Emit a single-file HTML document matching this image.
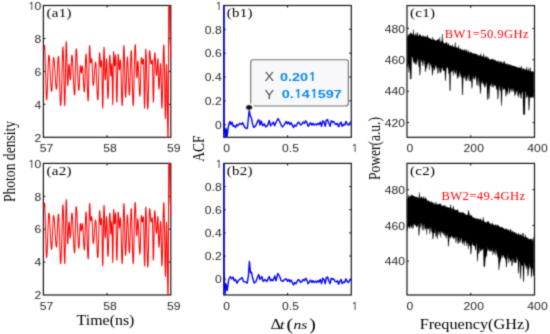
<!DOCTYPE html>
<html><head><meta charset="utf-8"><title>figure</title>
<style>html,body{margin:0;padding:0;background:#fff;}svg{display:block;}</style>
</head><body>
<svg width="550" height="334" viewBox="0 0 550 334">
<defs>
<clipPath id="cpa1"><rect x="42.6" y="5.2" width="129" height="132.4"/></clipPath>
<clipPath id="cpa2"><rect x="42.6" y="163.1" width="129" height="132.2"/></clipPath>
<clipPath id="cpb1"><rect x="222.9" y="5.2" width="129.2" height="132.4"/></clipPath>
<clipPath id="cpb2"><rect x="222.9" y="163.1" width="129.2" height="132.2"/></clipPath>
<clipPath id="cpc1"><rect x="406.2" y="5.3" width="129.1" height="132.3"/></clipPath>
<clipPath id="cpc2"><rect x="406.2" y="163.1" width="129.1" height="132.2"/></clipPath>
<filter id="bl" filterUnits="userSpaceOnUse" x="0" y="0" width="550" height="334" color-interpolation-filters="sRGB"><feConvolveMatrix order="3" kernelMatrix="0.0278 0.1111 0.0278 0.1111 0.4444 0.1111 0.0278 0.1111 0.0278" edgeMode="duplicate" preserveAlpha="true"/></filter>
</defs>
<rect width="550" height="334" fill="#fff"/>
<g filter="url(#bl)">
<rect width="550" height="334" fill="#fff"/>
<rect x="43.4" y="5.5" width="127.4" height="131.8" fill="none" stroke="#151515" stroke-width="1.2"/>
<rect x="43.4" y="163.4" width="127.4" height="131.6" fill="none" stroke="#151515" stroke-width="1.2"/>
<rect x="223.7" y="5.5" width="127.6" height="131.8" fill="none" stroke="#151515" stroke-width="1.2"/>
<rect x="223.7" y="163.4" width="127.6" height="131.6" fill="none" stroke="#151515" stroke-width="1.2"/>
<rect x="407" y="5.6" width="127.5" height="131.7" fill="none" stroke="#151515" stroke-width="1.2"/>
<rect x="407" y="163.4" width="127.5" height="131.6" fill="none" stroke="#151515" stroke-width="1.2"/>
<path d="M43.4 38.45h2.1M170.8 38.45h-2.1" stroke="#151515" stroke-width="1"/>
<path d="M43.4 71.4h2.1M170.8 71.4h-2.1" stroke="#151515" stroke-width="1"/>
<path d="M43.4 104.35h2.1M170.8 104.35h-2.1" stroke="#151515" stroke-width="1"/>
<path d="M107.1 137.3v-2.1M107.1 5.5v2.1" stroke="#151515" stroke-width="1.1"/>
<path d="M43.4 196.3h2.1M170.8 196.3h-2.1" stroke="#151515" stroke-width="1"/>
<path d="M43.4 229.2h2.1M170.8 229.2h-2.1" stroke="#151515" stroke-width="1"/>
<path d="M43.4 262.1h2.1M170.8 262.1h-2.1" stroke="#151515" stroke-width="1"/>
<path d="M107.1 295v-2.1M107.1 163.4v2.1" stroke="#151515" stroke-width="1.1"/>
<path d="M223.7 29.35h2.1M351.3 29.35h-2.1" stroke="#151515" stroke-width="1"/>
<path d="M223.7 53.2h2.1M351.3 53.2h-2.1" stroke="#151515" stroke-width="1"/>
<path d="M223.7 77.05h2.1M351.3 77.05h-2.1" stroke="#151515" stroke-width="1"/>
<path d="M223.7 100.9h2.1M351.3 100.9h-2.1" stroke="#151515" stroke-width="1"/>
<path d="M223.7 124.75h2.1M351.3 124.75h-2.1" stroke="#151515" stroke-width="1"/>
<path d="M287.5 137.3v-2.1M287.5 5.5v2.1" stroke="#151515" stroke-width="1.1"/>
<path d="M223.7 186.56h2.1M351.3 186.56h-2.1" stroke="#151515" stroke-width="1"/>
<path d="M223.7 209.72h2.1M351.3 209.72h-2.1" stroke="#151515" stroke-width="1"/>
<path d="M223.7 232.88h2.1M351.3 232.88h-2.1" stroke="#151515" stroke-width="1"/>
<path d="M223.7 256.04h2.1M351.3 256.04h-2.1" stroke="#151515" stroke-width="1"/>
<path d="M223.7 279.2h2.1M351.3 279.2h-2.1" stroke="#151515" stroke-width="1"/>
<path d="M287.5 295v-2.1M287.5 163.4v2.1" stroke="#151515" stroke-width="1.1"/>
<path d="M407 28.4h2.1M534.5 28.4h-2.1" stroke="#151515" stroke-width="1"/>
<path d="M407 59.8h2.1M534.5 59.8h-2.1" stroke="#151515" stroke-width="1"/>
<path d="M407 91.2h2.1M534.5 91.2h-2.1" stroke="#151515" stroke-width="1"/>
<path d="M407 122.6h2.1M534.5 122.6h-2.1" stroke="#151515" stroke-width="1"/>
<path d="M470.75 137.3v-2.1M470.75 5.6v2.1" stroke="#151515" stroke-width="1.1"/>
<path d="M407 189.7h2.1M534.5 189.7h-2.1" stroke="#151515" stroke-width="1"/>
<path d="M407 225.4h2.1M534.5 225.4h-2.1" stroke="#151515" stroke-width="1"/>
<path d="M407 261.1h2.1M534.5 261.1h-2.1" stroke="#151515" stroke-width="1"/>
<path d="M470.75 295v-2.1M470.75 163.4v2.1" stroke="#151515" stroke-width="1.1"/>
<path d="M43.5 50 L43.7 49.56 L43.9 48.41 L44.1 46.99 L44.3 45.84 L44.5 45.4 L44.71 46.73 L44.92 50.59 L45.13 56.61 L45.34 64.19 L45.55 72.6 L45.76 81.01 L45.97 88.59 L46.18 94.61 L46.39 98.47 L46.6 99.8 L46.81 98.89 L47.02 96.25 L47.23 92.09 L47.44 86.73 L47.65 80.63 L47.85 74.27 L48.06 68.17 L48.27 62.81 L48.48 58.65 L48.69 56.01 L48.9 55.1 L49.11 55.63 L49.32 57.18 L49.52 59.68 L49.73 62.96 L49.94 66.85 L50.15 71.11 L50.35 75.49 L50.56 79.75 L50.77 83.64 L50.98 86.92 L51.18 89.42 L51.39 90.97 L51.6 91.5 L51.8 90.67 L52 88.25 L52.2 84.49 L52.4 79.75 L52.6 74.5 L52.8 69.25 L53 64.51 L53.2 60.75 L53.4 58.33 L53.6 57.5 L53.81 57.9 L54.01 59.07 L54.22 60.96 L54.43 63.47 L54.64 66.47 L54.84 69.82 L55.05 73.35 L55.26 76.88 L55.46 80.23 L55.67 83.23 L55.88 85.74 L56.09 87.63 L56.29 88.8 L56.5 89.2 L56.71 88.21 L56.92 85.35 L57.13 80.98 L57.34 75.61 L57.56 69.89 L57.77 64.53 L57.98 60.15 L58.19 57.29 L58.4 56.3 L58.61 57.3 L58.82 60.22 L59.03 64.82 L59.24 70.74 L59.45 77.48 L59.65 84.52 L59.86 91.26 L60.07 97.18 L60.28 101.78 L60.49 104.7 L60.7 105.7 L60.91 104.51 L61.12 101.02 L61.33 95.54 L61.54 88.48 L61.75 80.44 L61.95 72.06 L62.16 64.02 L62.37 56.96 L62.58 51.48 L62.79 47.99 L63 46.8 L63.21 49.04 L63.42 55.43 L63.64 64.98 L63.85 76.25 L64.06 87.52 L64.28 97.07 L64.49 103.46 L64.7 105.7 L64.93 102.53 L65.16 93.63 L65.39 80.78 L65.61 66.52 L65.84 53.67 L66.07 44.77 L66.3 41.6 L66.5 43.8 L66.7 49.96 L66.9 58.86 L67.1 68.74 L67.3 77.64 L67.5 83.8 L67.7 86 L67.92 84.53 L68.13 80.5 L68.35 75 L68.57 69.5 L68.78 65.47 L69 64 L69.22 65.07 L69.43 68 L69.65 72 L69.87 76 L70.08 78.93 L70.3 80 L70.5 79.05 L70.7 76.35 L70.9 72.31 L71.1 67.55 L71.3 62.79 L71.5 58.75 L71.7 56.05 L71.9 55.1 L72.11 55.68 L72.32 57.39 L72.52 60.13 L72.73 63.74 L72.94 68.01 L73.15 72.69 L73.35 77.51 L73.56 82.19 L73.77 86.46 L73.98 90.07 L74.18 92.81 L74.39 94.52 L74.6 95.1 L74.8 93.33 L75 88.3 L75.2 80.78 L75.4 71.9 L75.6 63.02 L75.8 55.5 L76 50.47 L76.2 48.7 L76.42 49.41 L76.63 51.49 L76.85 54.81 L77.07 59.12 L77.28 64.15 L77.5 69.55 L77.72 74.95 L77.93 79.97 L78.15 84.29 L78.37 87.61 L78.58 89.69 L78.8 90.4 L79 89.46 L79.2 86.78 L79.4 82.78 L79.6 78.05 L79.8 73.32 L80 69.32 L80.2 66.64 L80.4 65.7 L80.62 66.77 L80.85 69.35 L81.08 71.93 L81.3 73 L81.5 72.3 L81.7 70.48 L81.9 68.22 L82.1 66.4 L82.3 65.7 L82.51 66.34 L82.72 68.21 L82.93 71.12 L83.14 74.79 L83.35 78.85 L83.56 82.91 L83.77 86.58 L83.98 89.49 L84.19 91.36 L84.4 92 L84.63 90.12 L84.86 84.85 L85.09 77.23 L85.31 68.77 L85.54 61.15 L85.77 55.88 L86 54 L86.2 54.95 L86.4 57.73 L86.6 62.11 L86.8 67.74 L87 74.16 L87.2 80.84 L87.4 87.26 L87.6 92.89 L87.8 97.27 L88 100.05 L88.2 101 L88.43 97.29 L88.67 87.15 L88.9 73.3 L89.13 59.45 L89.37 49.31 L89.6 45.6 L89.82 47.26 L90.04 51.61 L90.26 56.99 L90.48 61.34 L90.7 63 L90.9 62.58 L91.1 61.48 L91.3 60.12 L91.5 59.02 L91.7 58.6 L91.93 59.94 L92.16 63.68 L92.39 69.1 L92.61 75.1 L92.84 80.52 L93.07 84.26 L93.3 85.6 L93.51 85.13 L93.72 83.74 L93.93 81.56 L94.14 78.76 L94.35 75.57 L94.55 72.23 L94.76 69.04 L94.97 66.24 L95.18 64.06 L95.39 62.67 L95.6 62.2 L95.8 62.96 L96 65.18 L96.2 68.69 L96.4 73.19 L96.6 78.32 L96.8 83.68 L97 88.81 L97.2 93.31 L97.4 96.82 L97.6 99.04 L97.8 99.8 L98.01 98.38 L98.22 94.29 L98.43 88.03 L98.64 80.34 L98.86 72.16 L99.07 64.48 L99.28 58.21 L99.49 54.12 L99.7 52.7 L99.92 54.79 L100.15 59.85 L100.38 64.91 L100.6 67 L100.8 66.38 L101 64.75 L101.2 62.75 L101.4 61.12 L101.6 60.5 L101.82 65.05 L102.04 76.95 L102.26 91.65 L102.48 103.55 L102.7 108.1 L102.92 104.03 L103.13 92.9 L103.35 77.7 L103.57 62.5 L103.78 51.37 L104 47.3 L104.22 49.49 L104.43 55.47 L104.65 63.65 L104.87 71.82 L105.08 77.81 L105.3 80 L105.52 78.57 L105.73 74.65 L105.95 69.3 L106.17 63.95 L106.38 60.03 L106.6 58.6 L106.82 61.28 L107.03 68.6 L107.25 78.6 L107.47 88.6 L107.68 95.92 L107.9 98.6 L108.11 97.29 L108.32 93.51 L108.53 87.72 L108.74 80.63 L108.96 73.07 L109.17 65.97 L109.38 60.19 L109.59 56.41 L109.8 55.1 L110 56.5 L110.2 60.33 L110.4 65.55 L110.6 70.78 L110.8 74.6 L111 76 L111.27 72.92 L111.53 66.78 L111.8 63.7 L112 67.61 L112.2 77.83 L112.4 90.47 L112.6 100.69 L112.8 104.6 L113.07 91.33 L113.33 64.78 L113.6 51.5 L113.8 52.88 L114 56.48 L114.2 60.92 L114.4 64.52 L114.6 65.9 L114.8 64.86 L115 62.13 L115.2 58.77 L115.4 56.04 L115.6 55 L115.8 58.16 L116 66.8 L116.2 78.6 L116.4 90.4 L116.6 99.04 L116.8 102.2 L117 99.81 L117.2 93.13 L117.4 83.46 L117.6 72.74 L117.8 63.07 L118 56.39 L118.2 54 L118.4 55.07 L118.6 58 L118.8 62 L119 66 L119.2 68.93 L119.4 70 L119.6 69.03 L119.8 66.48 L120 63.32 L120.2 60.77 L120.4 59.8 L120.62 61.55 L120.85 66.52 L121.08 73.97 L121.3 82.75 L121.53 91.53 L121.75 98.98 L121.98 103.95 L122.2 105.7 L122.41 103.41 L122.62 96.9 L122.84 87.15 L123.05 75.65 L123.26 64.15 L123.48 54.4 L123.69 47.89 L123.9 45.6 L124.11 47.58 L124.33 53.2 L124.54 61.62 L124.75 71.55 L124.96 81.48 L125.17 89.9 L125.39 95.52 L125.6 97.5 L125.8 96.28 L126 92.76 L126.2 87.38 L126.4 80.77 L126.6 73.73 L126.8 67.12 L127 61.74 L127.2 58.22 L127.4 57 L127.6 57.93 L127.8 60.63 L128 64.83 L128.2 70.13 L128.4 76 L128.6 81.87 L128.8 87.17 L129 91.37 L129.2 94.07 L129.4 95 L129.61 93.66 L129.82 89.81 L130.03 83.9 L130.24 76.65 L130.46 68.95 L130.67 61.7 L130.88 55.79 L131.09 51.94 L131.3 50.6 L131.51 52.26 L131.72 57.05 L131.93 64.38 L132.14 73.37 L132.36 82.93 L132.57 91.92 L132.78 99.25 L132.99 104.04 L133.2 105.7 L133.4 104.2 L133.6 99.86 L133.8 93.09 L134 84.56 L134.2 75.1 L134.4 65.64 L134.6 57.11 L134.8 50.34 L135 46 L135.2 44.5 L135.4 45.78 L135.6 49.41 L135.8 54.84 L136 61.25 L136.2 67.66 L136.4 73.09 L136.6 76.72 L136.8 78 L137 76.38 L137.2 72.13 L137.4 66.87 L137.6 62.62 L137.8 61 L138.01 61.86 L138.22 64.37 L138.43 68.28 L138.64 73.2 L138.85 78.65 L139.06 84.1 L139.27 89.02 L139.48 92.93 L139.69 95.44 L139.9 96.3 L140.11 94.38 L140.33 89 L140.54 81.22 L140.76 72.58 L140.97 64.8 L141.19 59.42 L141.4 57.5 L141.6 58.12 L141.8 59.75 L142 61.75 L142.2 63.38 L142.4 64 L142.6 63.5 L142.8 62.2 L143 60.6 L143.2 59.3 L143.4 58.8 L143.64 63.51 L143.88 75.83 L144.12 91.07 L144.36 103.39 L144.6 108.1 L144.8 104.15 L145 93.38 L145.2 78.65 L145.4 63.93 L145.6 53.15 L145.8 49.2 L146 50.67 L146.2 54.94 L146.4 61.59 L146.6 69.96 L146.8 79.25 L147 88.54 L147.2 96.91 L147.4 103.56 L147.6 107.83 L147.8 109.3 L148.03 107.07 L148.25 100.7 L148.47 91.18 L148.7 79.95 L148.93 68.72 L149.15 59.2 L149.38 52.83 L149.6 50.6 L149.81 51.26 L150.03 53.12 L150.24 55.81 L150.46 58.79 L150.67 61.48 L150.89 63.34 L151.1 64 L151.3 63.71 L151.5 62.93 L151.7 61.85 L151.9 60.78 L152.1 59.99 L152.3 59.7 L152.52 63.76 L152.74 74.38 L152.96 87.52 L153.18 98.14 L153.4 102.2 L153.62 98.88 L153.83 89.83 L154.05 77.45 L154.27 65.08 L154.48 56.02 L154.7 52.7 L154.91 53.39 L155.12 55.37 L155.33 58.4 L155.54 62.12 L155.76 66.08 L155.97 69.8 L156.18 72.83 L156.39 74.81 L156.6 75.5 L156.82 74.37 L157.03 71.28 L157.25 67.05 L157.47 62.83 L157.68 59.73 L157.9 58.6 L158.1 61.52 L158.3 69.17 L158.5 78.63 L158.7 86.28 L158.9 89.2 L159.12 88.22 L159.35 85.42 L159.57 81.24 L159.8 76.3 L160.03 71.36 L160.25 67.18 L160.47 64.38 L160.7 63.4 L160.9 66.39 L161.1 74.57 L161.3 85.75 L161.5 96.92 L161.7 105.11 L161.9 108.1 L162.11 106.19 L162.32 100.68 L162.53 92.25 L162.74 81.9 L162.96 70.9 L163.17 60.55 L163.38 52.12 L163.59 46.61 L163.8 44.7 L164.01 47.52 L164.23 55.54 L164.44 67.54 L164.65 81.7 L164.86 95.86 L165.07 107.86 L165.29 115.88 L165.5 118.7 L165.7 113.52 L165.9 99.97 L166.1 83.23 L166.3 69.68 L166.5 64.5 L166.73 68.24 L166.96 78.71 L167.19 93.85 L167.41 110.65 L167.64 125.79 L167.87 136.26 L168.1 140 L168.32 115.1 L168.55 55 L168.78 -5.1 L169 -30 L169.2 -26.21 L169.4 -15.6 L169.6 -0.26 L169.8 16.76 L170 32.1 L170.2 42.71 L170.4 46.5 L170.65 52.25 L170.9 58" fill="none" stroke="#ff0000" stroke-width="1.05" stroke-linejoin="round" clip-path="url(#cpa1)"/>
<path d="M43.5 207.9 L43.7 207.46 L43.9 206.31 L44.1 204.89 L44.3 203.74 L44.5 203.3 L44.71 204.63 L44.92 208.49 L45.13 214.51 L45.34 222.09 L45.55 230.5 L45.76 238.91 L45.97 246.49 L46.18 252.51 L46.39 256.37 L46.6 257.7 L46.81 256.79 L47.02 254.15 L47.23 249.99 L47.44 244.63 L47.65 238.53 L47.85 232.17 L48.06 226.07 L48.27 220.71 L48.48 216.55 L48.69 213.91 L48.9 213 L49.11 213.53 L49.32 215.08 L49.52 217.58 L49.73 220.86 L49.94 224.75 L50.15 229.01 L50.35 233.39 L50.56 237.65 L50.77 241.54 L50.98 244.82 L51.18 247.32 L51.39 248.87 L51.6 249.4 L51.8 248.57 L52 246.15 L52.2 242.39 L52.4 237.65 L52.6 232.4 L52.8 227.15 L53 222.41 L53.2 218.65 L53.4 216.23 L53.6 215.4 L53.81 215.8 L54.01 216.97 L54.22 218.86 L54.43 221.37 L54.64 224.37 L54.84 227.72 L55.05 231.25 L55.26 234.78 L55.46 238.13 L55.67 241.13 L55.88 243.64 L56.09 245.53 L56.29 246.7 L56.5 247.1 L56.71 246.11 L56.92 243.25 L57.13 238.88 L57.34 233.51 L57.56 227.79 L57.77 222.43 L57.98 218.05 L58.19 215.19 L58.4 214.2 L58.61 215.2 L58.82 218.12 L59.03 222.72 L59.24 228.64 L59.45 235.38 L59.65 242.42 L59.86 249.16 L60.07 255.08 L60.28 259.68 L60.49 262.6 L60.7 263.6 L60.91 262.41 L61.12 258.92 L61.33 253.44 L61.54 246.38 L61.75 238.34 L61.95 229.96 L62.16 221.92 L62.37 214.86 L62.58 209.38 L62.79 205.89 L63 204.7 L63.21 206.94 L63.42 213.33 L63.64 222.88 L63.85 234.15 L64.06 245.42 L64.28 254.97 L64.49 261.36 L64.7 263.6 L64.93 260.43 L65.16 251.53 L65.39 238.68 L65.61 224.42 L65.84 211.57 L66.07 202.67 L66.3 199.5 L66.5 201.7 L66.7 207.86 L66.9 216.76 L67.1 226.64 L67.3 235.54 L67.5 241.7 L67.7 243.9 L67.92 242.43 L68.13 238.4 L68.35 232.9 L68.57 227.4 L68.78 223.37 L69 221.9 L69.22 222.97 L69.43 225.9 L69.65 229.9 L69.87 233.9 L70.08 236.83 L70.3 237.9 L70.5 236.95 L70.7 234.25 L70.9 230.21 L71.1 225.45 L71.3 220.69 L71.5 216.65 L71.7 213.95 L71.9 213 L72.11 213.58 L72.32 215.29 L72.52 218.03 L72.73 221.64 L72.94 225.91 L73.15 230.59 L73.35 235.41 L73.56 240.09 L73.77 244.36 L73.98 247.97 L74.18 250.71 L74.39 252.42 L74.6 253 L74.8 251.23 L75 246.2 L75.2 238.68 L75.4 229.8 L75.6 220.92 L75.8 213.4 L76 208.37 L76.2 206.6 L76.42 207.31 L76.63 209.39 L76.85 212.71 L77.07 217.03 L77.28 222.05 L77.5 227.45 L77.72 232.85 L77.93 237.88 L78.15 242.19 L78.37 245.51 L78.58 247.59 L78.8 248.3 L79 247.36 L79.2 244.68 L79.4 240.68 L79.6 235.95 L79.8 231.22 L80 227.22 L80.2 224.54 L80.4 223.6 L80.62 224.67 L80.85 227.25 L81.08 229.83 L81.3 230.9 L81.5 230.2 L81.7 228.38 L81.9 226.12 L82.1 224.3 L82.3 223.6 L82.51 224.24 L82.72 226.11 L82.93 229.02 L83.14 232.69 L83.35 236.75 L83.56 240.81 L83.77 244.48 L83.98 247.39 L84.19 249.26 L84.4 249.9 L84.63 248.02 L84.86 242.75 L85.09 235.13 L85.31 226.67 L85.54 219.05 L85.77 213.78 L86 211.9 L86.2 212.85 L86.4 215.63 L86.6 220.01 L86.8 225.64 L87 232.06 L87.2 238.74 L87.4 245.16 L87.6 250.79 L87.8 255.17 L88 257.95 L88.2 258.9 L88.43 255.19 L88.67 245.05 L88.9 231.2 L89.13 217.35 L89.37 207.21 L89.6 203.5 L89.82 205.16 L90.04 209.51 L90.26 214.89 L90.48 219.24 L90.7 220.9 L90.9 220.48 L91.1 219.38 L91.3 218.02 L91.5 216.92 L91.7 216.5 L91.93 217.84 L92.16 221.58 L92.39 227 L92.61 233 L92.84 238.42 L93.07 242.16 L93.3 243.5 L93.51 243.03 L93.72 241.64 L93.93 239.46 L94.14 236.66 L94.35 233.47 L94.55 230.13 L94.76 226.94 L94.97 224.14 L95.18 221.96 L95.39 220.57 L95.6 220.1 L95.8 220.86 L96 223.08 L96.2 226.59 L96.4 231.09 L96.6 236.22 L96.8 241.58 L97 246.71 L97.2 251.21 L97.4 254.72 L97.6 256.94 L97.8 257.7 L98.01 256.28 L98.22 252.19 L98.43 245.93 L98.64 238.24 L98.86 230.06 L99.07 222.38 L99.28 216.11 L99.49 212.02 L99.7 210.6 L99.92 212.69 L100.15 217.75 L100.38 222.81 L100.6 224.9 L100.8 224.28 L101 222.65 L101.2 220.65 L101.4 219.02 L101.6 218.4 L101.82 222.95 L102.04 234.85 L102.26 249.55 L102.48 261.45 L102.7 266 L102.92 261.93 L103.13 250.8 L103.35 235.6 L103.57 220.4 L103.78 209.27 L104 205.2 L104.22 207.39 L104.43 213.38 L104.65 221.55 L104.87 229.72 L105.08 235.71 L105.3 237.9 L105.52 236.47 L105.73 232.55 L105.95 227.2 L106.17 221.85 L106.38 217.93 L106.6 216.5 L106.82 219.18 L107.03 226.5 L107.25 236.5 L107.47 246.5 L107.68 253.82 L107.9 256.5 L108.11 255.19 L108.32 251.41 L108.53 245.62 L108.74 238.53 L108.96 230.97 L109.17 223.88 L109.38 218.09 L109.59 214.31 L109.8 213 L110 214.4 L110.2 218.23 L110.4 223.45 L110.6 228.68 L110.8 232.5 L111 233.9 L111.27 230.82 L111.53 224.68 L111.8 221.6 L112 225.51 L112.2 235.73 L112.4 248.37 L112.6 258.59 L112.8 262.5 L113.07 249.23 L113.33 222.68 L113.6 209.4 L113.8 210.78 L114 214.38 L114.2 218.82 L114.4 222.42 L114.6 223.8 L114.8 222.76 L115 220.03 L115.2 216.67 L115.4 213.94 L115.6 212.9 L115.8 216.06 L116 224.7 L116.2 236.5 L116.4 248.3 L116.6 256.94 L116.8 260.1 L117 257.71 L117.2 251.03 L117.4 241.36 L117.6 230.64 L117.8 220.97 L118 214.29 L118.2 211.9 L118.4 212.97 L118.6 215.9 L118.8 219.9 L119 223.9 L119.2 226.83 L119.4 227.9 L119.6 226.93 L119.8 224.38 L120 221.22 L120.2 218.67 L120.4 217.7 L120.62 219.45 L120.85 224.42 L121.08 231.87 L121.3 240.65 L121.53 249.43 L121.75 256.88 L121.98 261.85 L122.2 263.6 L122.41 261.31 L122.62 254.8 L122.84 245.05 L123.05 233.55 L123.26 222.05 L123.48 212.3 L123.69 205.79 L123.9 203.5 L124.11 205.48 L124.33 211.1 L124.54 219.52 L124.75 229.45 L124.96 239.38 L125.17 247.8 L125.39 253.42 L125.6 255.4 L125.8 254.18 L126 250.66 L126.2 245.28 L126.4 238.67 L126.6 231.63 L126.8 225.03 L127 219.64 L127.2 216.12 L127.4 214.9 L127.6 215.83 L127.8 218.53 L128 222.73 L128.2 228.03 L128.4 233.9 L128.6 239.77 L128.8 245.07 L129 249.27 L129.2 251.97 L129.4 252.9 L129.61 251.56 L129.82 247.71 L130.03 241.8 L130.24 234.55 L130.46 226.85 L130.67 219.6 L130.88 213.69 L131.09 209.84 L131.3 208.5 L131.51 210.16 L131.72 214.95 L131.93 222.28 L132.14 231.27 L132.36 240.83 L132.57 249.82 L132.78 257.15 L132.99 261.94 L133.2 263.6 L133.4 262.1 L133.6 257.76 L133.8 250.99 L134 242.46 L134.2 233 L134.4 223.54 L134.6 215.01 L134.8 208.24 L135 203.9 L135.2 202.4 L135.4 203.68 L135.6 207.31 L135.8 212.74 L136 219.15 L136.2 225.56 L136.4 230.99 L136.6 234.62 L136.8 235.9 L137 234.28 L137.2 230.03 L137.4 224.77 L137.6 220.52 L137.8 218.9 L138.01 219.76 L138.22 222.27 L138.43 226.18 L138.64 231.1 L138.85 236.55 L139.06 242 L139.27 246.92 L139.48 250.83 L139.69 253.34 L139.9 254.2 L140.11 252.28 L140.33 246.9 L140.54 239.12 L140.76 230.48 L140.97 222.7 L141.19 217.32 L141.4 215.4 L141.6 216.02 L141.8 217.65 L142 219.65 L142.2 221.28 L142.4 221.9 L142.6 221.4 L142.8 220.1 L143 218.5 L143.2 217.2 L143.4 216.7 L143.64 221.41 L143.88 233.73 L144.12 248.97 L144.36 261.29 L144.6 266 L144.8 262.05 L145 251.28 L145.2 236.55 L145.4 221.83 L145.6 211.05 L145.8 207.1 L146 208.57 L146.2 212.84 L146.4 219.49 L146.6 227.86 L146.8 237.15 L147 246.44 L147.2 254.81 L147.4 261.46 L147.6 265.73 L147.8 267.2 L148.03 264.97 L148.25 258.6 L148.47 249.08 L148.7 237.85 L148.93 226.62 L149.15 217.1 L149.38 210.73 L149.6 208.5 L149.81 209.16 L150.03 211.02 L150.24 213.71 L150.46 216.69 L150.67 219.38 L150.89 221.24 L151.1 221.9 L151.3 221.61 L151.5 220.83 L151.7 219.75 L151.9 218.68 L152.1 217.89 L152.3 217.6 L152.52 221.66 L152.74 232.28 L152.96 245.42 L153.18 256.04 L153.4 260.1 L153.62 256.78 L153.83 247.73 L154.05 235.35 L154.27 222.98 L154.48 213.92 L154.7 210.6 L154.91 211.29 L155.12 213.27 L155.33 216.3 L155.54 220.02 L155.76 223.98 L155.97 227.7 L156.18 230.73 L156.39 232.71 L156.6 233.4 L156.82 232.27 L157.03 229.18 L157.25 224.95 L157.47 220.73 L157.68 217.63 L157.9 216.5 L158.1 219.42 L158.3 227.07 L158.5 236.53 L158.7 244.18 L158.9 247.1 L159.12 246.12 L159.35 243.32 L159.57 239.14 L159.8 234.2 L160.03 229.26 L160.25 225.08 L160.47 222.28 L160.7 221.3 L160.9 224.29 L161.1 232.47 L161.3 243.65 L161.5 254.82 L161.7 263.01 L161.9 266 L162.11 264.09 L162.32 258.58 L162.53 250.15 L162.74 239.8 L162.96 228.8 L163.17 218.45 L163.38 210.02 L163.59 204.51 L163.8 202.6 L164.01 205.42 L164.23 213.44 L164.44 225.44 L164.65 239.6 L164.86 253.76 L165.07 265.76 L165.29 273.78 L165.5 276.6 L165.7 271.42 L165.9 257.87 L166.1 241.13 L166.3 227.58 L166.5 222.4 L166.73 226.14 L166.96 236.61 L167.19 251.75 L167.41 268.55 L167.64 283.69 L167.87 294.16 L168.1 297.9 L168.32 273 L168.55 212.9 L168.78 152.8 L169 127.9 L169.2 131.69 L169.4 142.3 L169.6 157.64 L169.8 174.66 L170 190 L170.2 200.61 L170.4 204.4 L170.65 210.15 L170.9 215.9" fill="none" stroke="#ff0000" stroke-width="1.05" stroke-linejoin="round" clip-path="url(#cpa2)"/>
<path d="M224.1 5.5 L224.2 120 L224.4 127.5 L225.2 137.3 L226.1 128.6 L227 136.3 L228.5 125.7 L229.7 121.5 L230.9 124.5 L232 122.1 L233.2 126.3 L234.4 125.7 L235.6 127.5 L236.8 124.5 L238 125.7 L239.7 123.3 L241.5 124.5 L242.7 122.7 L244.5 126.9 L246.2 128.6 L247.4 128 L249.2 110.2 L250.3 116.2 L251.3 117.4 L252.5 123.9 L253.9 127.5 L255.7 125.7 L257.5 121.5 L258.9 119.8 L260.1 125.1 L261.2 121 L262.8 125.7 L264.3 123.9 L265.7 126.9 L267.5 125.7 L269.3 120.4 L270.5 125.7 L271.6 124.5 L273.4 122.1 L274.6 125.7 L276.4 121.5 L278.1 118.6 L279.7 121.5 L281.1 125.1 L282.5 126.9 L284 125.1 L285 123.3 L286.2 121.4 L287.4 123.9 L288.7 122 L289.9 124.5 L291.1 122.7 L292.3 125.1 L293.5 127.5 L294.7 125.1 L296 126.3 L297.2 123.9 L298.4 122 L299.6 123.3 L300.8 125.1 L302 123.9 L303.3 122 L304.5 123.3 L305.7 120.8 L306.9 122.7 L308.1 126.3 L309.4 124.5 L310.6 122.7 L311.8 125.1 L313 123.3 L314.2 125.1 L315.5 123.9 L316.7 125.1 L317.9 123.3 L319.1 124.5 L320.3 122 L321.5 126.3 L322.8 120.8 L324 122 L325.2 126.3 L326.4 120.2 L327.6 119.6 L328.8 123.3 L330.1 126.3 L331.3 120.8 L332.5 122 L333.7 121.4 L334.9 123.9 L336.2 124.5 L337.4 123.3 L338.6 126.9 L339.8 123.9 L341 122 L342.2 126.3 L343.5 124.5 L344.7 125.1 L345.9 121.4 L347.1 123.9 L348.3 125.1 L349.6 123.3 L350.8 122 L351.3 122.5" fill="none" stroke="#0000ff" stroke-width="1.4" stroke-linejoin="round" clip-path="url(#cpb1)"/>
<path d="M224.1 163.4 L224.2 270 L224.5 283.2 L225.1 294.5 L225.9 283.8 L227.2 290.6 L228.7 279.5 L230.3 276.5 L231.8 278.9 L233 277.1 L234.3 280.8 L235.5 279.5 L237 283.2 L238.6 280.2 L240.4 278.9 L242.2 277.7 L243.5 281.4 L245.3 282 L247.2 283.2 L248.4 275.9 L249.4 261.5 L250.5 272.8 L251.4 272.2 L252.7 278.3 L254.1 283 L255.7 282 L257.6 277.1 L258.8 274.6 L260 279.5 L261.9 276.5 L263.1 281.4 L264.9 279.5 L266.8 281.4 L269.2 276.5 L270.5 280.8 L271.7 279.5 L272.9 280.8 L274.8 275.9 L276 280.8 L277.8 273.4 L279.7 276.5 L280.9 280.2 L282.7 281.4 L284.6 279.5 L286.2 278.8 L287.4 281.3 L288.7 279.4 L289.9 281.9 L291.1 280.1 L292.3 282.5 L293.5 284.9 L294.7 282.5 L296 283.7 L297.2 281.3 L298.4 279.4 L299.6 280.7 L300.8 282.5 L302 281.3 L303.3 279.4 L304.5 280.7 L305.7 278.2 L306.9 280.1 L308.1 283.7 L309.4 281.9 L310.6 280.1 L311.8 282.5 L313 280.7 L314.2 282.5 L315.5 281.3 L316.7 282.5 L317.9 280.7 L319.1 281.9 L320.3 279.4 L321.5 283.7 L322.8 278.2 L324 279.4 L325.2 283.7 L326.4 277.6 L327.6 277 L328.8 280.7 L330.1 283.7 L331.3 278.2 L332.5 279.4 L333.7 278.8 L334.9 281.3 L336.2 281.9 L337.4 280.7 L338.6 284.3 L339.8 281.3 L341 279.4 L342.2 283.7 L343.5 281.9 L344.7 282.5 L345.9 278.8 L347.1 281.3 L348.3 282.5 L349.6 280.7 L350.8 279.4 L351.3 279.9" fill="none" stroke="#0000ff" stroke-width="1.4" stroke-linejoin="round" clip-path="url(#cpb2)"/>
<path d="M407.3 36.33L407.8 36.56L408.3 35.8L408.8 34.36L409.3 35.23L409.8 33.52L410.3 33.88L410.8 32.5L411.3 33.1L411.8 34.15L412.3 34.21L412.8 34.74L413.3 29.53L413.8 34.75L414.3 34.77L414.8 35.64L415.3 35.52L415.8 32.94L416.3 35.35L416.8 35.71L417.3 32.3L417.8 34.34L418.3 36.75L418.8 36.05L419.3 34.42L419.8 34.95L420.3 34.27L420.8 35.91L421.3 36.33L421.8 36.37L422.3 37.54L422.8 35.64L423.3 35.19L423.8 36.84L424.3 36.75L424.8 37.1L425.3 36.59L425.8 36.1L426.3 37.38L426.8 37.54L427.3 34.93L427.8 36.79L428.3 38L428.8 37.67L429.3 38.34L429.8 38.62L430.3 38.75L430.8 38.59L431.3 39.41L431.8 39.75L432.3 39.58L432.8 36.96L433.3 40.15L433.8 39.58L434.3 40.57L434.8 39.56L435.3 40.92L435.8 40.52L436.3 39.94L436.8 40.64L437.3 40.28L437.8 39.58L438.3 39.66L438.8 38.86L439.3 41.67L439.8 37.24L440.3 41.98L440.8 42.39L441.3 41.14L441.8 40.75L442.3 33.98L442.8 41.04L443.3 42.22L443.8 43.31L444.3 43.15L444.8 43.77L445.3 43.26L445.8 42.81L446.3 43.87L446.8 41.76L447.3 44.87L447.8 44.75L448.3 43.08L448.8 44.39L449.3 45.43L449.8 45.9L450.3 45.28L450.8 45.85L451.3 46.3L451.8 46.49L452.3 44.48L452.8 46.72L453.3 46.69L453.8 46.77L454.3 47.74L454.8 45.93L455.3 42.29L455.8 47.64L456.3 46.94L456.8 48.17L457.3 47.75L457.8 47.73L458.3 48.41L458.8 45.33L459.3 49.57L459.8 49.24L460.3 48.66L460.8 48.45L461.3 50.16L461.8 49.63L462.3 49.46L462.8 50.13L463.3 50.1L463.8 50.9L464.3 49.07L464.8 50.75L465.3 50.48L465.8 51.37L466.3 49.27L466.8 51.83L467.3 52.52L467.8 50.85L468.3 50.46L468.8 52.47L469.3 53.8L469.8 51.84L470.3 51.76L470.8 53.13L471.3 52.44L471.8 52.81L472.3 53.07L472.8 53.66L473.3 53.37L473.8 53.95L474.3 53.84L474.8 53.61L475.3 54.09L475.8 53.88L476.3 54.63L476.8 54.12L477.3 54.3L477.8 56L478.3 55.26L478.8 55.43L479.3 55.94L479.8 55.54L480.3 55.83L480.8 53.55L481.3 56.46L481.8 55.76L482.3 57.11L482.8 56.41L483.3 56.29L483.8 53.64L484.3 57.01L484.8 58.22L485.3 56.68L485.8 56.75L486.3 56.59L486.8 58.03L487.3 58.73L487.8 56.59L488.3 58.12L488.8 58.8L489.3 59.24L489.8 59.37L490.3 60.32L490.8 59.42L491.3 59.09L491.8 59.53L492.3 59.72L492.8 58.55L493.3 60.06L493.8 60.34L494.3 59.39L494.8 61.04L495.3 60.35L495.8 60.14L496.3 61.37L496.8 61.73L497.3 61.34L497.8 61.54L498.3 60.74L498.8 63.46L499.3 62.42L499.8 61.03L500.3 61.72L500.8 62.39L501.3 61.56L501.8 62.74L502.3 62.51L502.8 63.68L503.3 63.51L503.8 61.61L504.3 61.18L504.8 62.57L505.3 64.36L505.8 63.94L506.3 64.32L506.8 63.5L507.3 63.89L507.8 65.49L508.3 63.96L508.8 64.98L509.3 64.51L509.8 65.06L510.3 64.47L510.8 66.51L511.3 64.96L511.8 65.53L512.3 66.16L512.8 65.63L513.3 66.03L513.8 66L514.3 66.41L514.8 65.95L515.3 66.55L515.8 66.85L516.3 66.93L516.8 67.11L517.3 67.27L517.8 68.06L518.3 67.57L518.8 67.84L519.3 67.68L519.8 67.21L520.3 67.63L520.8 68.84L521.3 65.91L521.8 67.79L522.3 69.18L522.8 69.35L523.3 69.02L523.8 68.19L524.3 69.48L524.8 69.85L525.3 68.99L525.8 70.44L526.3 69.7L526.8 66.82L527.3 70.47L527.8 70.45L528.3 70.83L528.8 67.9L529.3 71.14L529.8 70.78L530.3 67.41L530.8 71.8L531.3 71.36L531.8 71.91L532.3 71.66L532.8 71.03L533.3 72.3L533.8 71.85L533.8 97.84L533.3 96.62L532.8 97.86L532.3 95.73L531.8 97.28L531.3 97.51L530.8 98.16L530.3 96.19L529.8 97.09L529.3 108L528.8 110.6L528.3 97.98L527.8 94.19L527.3 96.7L526.8 97.12L526.3 98.22L525.8 91.96L525.3 90.91L524.8 114.69L524.3 114.55L523.8 114.4L523.3 114.26L522.8 91.1L522.3 92.35L521.8 93.32L521.3 98.87L520.8 97.79L520.3 94.58L519.8 93.74L519.3 91.39L518.8 97.68L518.3 93.67L517.8 96.04L517.3 90.05L516.8 91.29L516.3 91.71L515.8 94.81L515.3 92.27L514.8 96.22L514.3 92.04L513.8 87.55L513.3 91.73L512.8 87.19L512.3 91.19L511.8 87.79L511.3 91.56L510.8 88.14L510.3 89.67L509.8 93.41L509.3 93.22L508.8 86.81L508.3 88.48L507.8 94.46L507.3 90.97L506.8 92.11L506.3 95.28L505.8 96.4L505.3 90.27L504.8 88.77L504.3 88.34L503.8 89.9L503.3 89.64L502.8 85.83L502.3 89.48L501.8 102.61L501.3 105.89L500.8 89.33L500.3 91.22L499.8 89.34L499.3 85.43L498.8 87.15L498.3 97.21L497.8 99.4L497.3 90.3L496.8 88.74L496.3 89.48L495.8 84.65L495.3 85.78L494.8 85.4L494.3 86.29L493.8 82.55L493.3 87.75L492.8 83.7L492.3 86.71L491.8 86.97L491.3 83.14L490.8 84.3L490.3 86.11L489.8 85.27L489.3 96.47L488.8 99.15L488.3 87.12L487.8 97.14L487.3 100.09L486.8 82.35L486.3 82.43L485.8 86.5L485.3 83.05L484.8 87.77L484.3 85.82L483.8 84.7L483.3 83.33L482.8 83.77L482.3 80.37L481.8 83.17L481.3 81.39L480.8 91.8L480.3 93.95L479.8 86.1L479.3 79.53L478.8 86.55L478.3 76.73L477.8 79.55L477.3 84.89L476.8 85.59L476.3 79.85L475.8 76.32L475.3 75.75L474.8 79.14L474.3 79.16L473.8 78.99L473.3 76.2L472.8 76.78L472.3 86.87L471.8 88.49L471.3 78.73L470.8 81.53L470.3 80.18L469.8 81.32L469.3 76.33L468.8 73.62L468.3 80.39L467.8 77.2L467.3 76.24L466.8 81.26L466.3 78.38L465.8 81.05L465.3 74.92L464.8 78.51L464.3 74.95L463.8 78.43L463.3 74.77L462.8 95.03L462.3 94.87L461.8 76.93L461.3 77.91L460.8 72.57L460.3 74.8L459.8 76.72L459.3 70.46L458.8 75.09L458.3 77.76L457.8 75.17L457.3 78.93L456.8 74.81L456.3 69.61L455.8 72.52L455.3 74.49L454.8 69.02L454.3 73.18L453.8 68.56L453.3 75.72L452.8 72.11L452.3 69.74L451.8 71.56L451.3 71.75L450.8 71.29L450.3 90.67L449.8 90.49L449.3 72.38L448.8 74.15L448.3 70.28L447.8 67.59L447.3 67L446.8 67.55L446.3 68.95L445.8 79.1L445.3 81.05L444.8 71.31L444.3 70.63L443.8 69.88L443.3 70.95L442.8 68.48L442.3 68.05L441.8 66.91L441.3 71.05L440.8 72.27L440.3 73.01L439.8 72.33L439.3 67.54L438.8 67.67L438.3 72.26L437.8 73.88L437.3 66.99L436.8 68.69L436.3 65.51L435.8 65.74L435.3 66.45L434.8 68.78L434.3 70.77L433.8 67.69L433.3 68.16L432.8 73.87L432.3 75.59L431.8 68.07L431.3 66.16L430.8 62.46L430.3 65.57L429.8 62.11L429.3 70.23L428.8 63.88L428.3 61.63L427.8 63.98L427.3 64.45L426.8 68.6L426.3 64.84L425.8 70.59L425.3 72.06L424.8 65.19L424.3 61.41L423.8 59.62L423.3 64.08L422.8 66.08L422.3 61.89L421.8 62.06L421.3 59.68L420.8 59.77L420.3 73.02L419.8 75.49L419.3 66.18L418.8 66.95L418.3 60.45L417.8 57.85L417.3 60.71L416.8 64.74L416.3 61.13L415.8 62L415.3 64.63L414.8 61.43L414.3 63.59L413.8 62.5L413.3 61.28L412.8 58.5L412.3 56.99L411.8 56.4L411.3 78.84L410.8 79.02L410.3 79.21L409.8 65.7L409.3 69.98L408.8 72.52L408.3 63.01L407.8 67.17L407.3 65.95Z" fill="#000" stroke="#000" stroke-width="0.3" clip-path="url(#cpc1)"/>
<path d="M407.3 199.22L407.8 197.77L408.3 197.54L408.8 194.76L409.3 197.54L409.8 196.5L410.3 195.71L410.8 196.19L411.3 195.71L411.8 194.44L412.3 195.28L412.8 195.83L413.3 196L413.8 195.91L414.3 196.84L414.8 196.7L415.3 197.07L415.8 196.76L416.3 197.31L416.8 196.76L417.3 197.87L417.8 197.54L418.3 197.69L418.8 197.8L419.3 192.22L419.8 198.14L420.3 198.97L420.8 196.82L421.3 196.82L421.8 197.02L422.3 197.97L422.8 198.13L423.3 198.76L423.8 196.36L424.3 198.52L424.8 198.9L425.3 198.75L425.8 197.31L426.3 199.04L426.8 199.79L427.3 200.52L427.8 201.79L428.3 200.58L428.8 200.69L429.3 201.18L429.8 202.29L430.3 201.75L430.8 202.87L431.3 201.14L431.8 203.12L432.3 203.25L432.8 201.97L433.3 203.09L433.8 203.92L434.3 203.42L434.8 204.16L435.3 205.17L435.8 201.86L436.3 203.9L436.8 203.73L437.3 204.7L437.8 204.32L438.3 204.45L438.8 204.61L439.3 203.61L439.8 204.28L440.3 204.12L440.8 203.7L441.3 206L441.8 205.44L442.3 206.42L442.8 205.63L443.3 205.31L443.8 206.17L444.3 205.95L444.8 205.47L445.3 205.56L445.8 207.73L446.3 206.61L446.8 207.37L447.3 207.17L447.8 207.15L448.3 207.69L448.8 207.95L449.3 207.71L449.8 207.24L450.3 207.86L450.8 204.38L451.3 209.31L451.8 208.25L452.3 209.78L452.8 208.35L453.3 205.82L453.8 209.03L454.3 209.61L454.8 209.97L455.3 209.89L455.8 209.93L456.3 210.15L456.8 210.27L457.3 210.02L457.8 209.33L458.3 211.61L458.8 212.12L459.3 212.17L459.8 213.46L460.3 212.38L460.8 212.12L461.3 213.72L461.8 212.17L462.3 212.71L462.8 212.64L463.3 212.87L463.8 212.44L464.3 214.36L464.8 213.94L465.3 213.66L465.8 215.46L466.3 215.12L466.8 214.89L467.3 214.63L467.8 215.26L468.3 210.28L468.8 211.53L469.3 213.23L469.8 215.72L470.3 215.99L470.8 214.66L471.3 215.89L471.8 215.42L472.3 217.03L472.8 217.69L473.3 218.26L473.8 217.18L474.3 218.18L474.8 217.78L475.3 219.48L475.8 218.4L476.3 218.92L476.8 218.25L477.3 218.52L477.8 219.32L478.3 219.16L478.8 219.23L479.3 218.84L479.8 220.37L480.3 219.62L480.8 218.56L481.3 220.26L481.8 221.4L482.3 220.09L482.8 220.35L483.3 217.05L483.8 221.18L484.3 221.66L484.8 221.63L485.3 222.15L485.8 222.61L486.3 222.73L486.8 222.46L487.3 221.35L487.8 222.37L488.3 221.35L488.8 221.92L489.3 223.82L489.8 222.88L490.3 223.42L490.8 224.46L491.3 224.46L491.8 224.36L492.3 222.57L492.8 224.76L493.3 224.96L493.8 224.39L494.3 225.71L494.8 225.57L495.3 224.25L495.8 225.68L496.3 225.02L496.8 226.64L497.3 224.53L497.8 225.64L498.3 225.74L498.8 225.53L499.3 226.67L499.8 227.13L500.3 227.6L500.8 227.16L501.3 227.38L501.8 226.5L502.3 228.1L502.8 227.95L503.3 228.2L503.8 228.08L504.3 229.04L504.8 230.07L505.3 229.22L505.8 228.62L506.3 230.11L506.8 228.56L507.3 230.19L507.8 229.73L508.3 230.84L508.8 229.31L509.3 231.47L509.8 231.05L510.3 230.03L510.8 228.99L511.3 231.27L511.8 232.44L512.3 231.7L512.8 230.81L513.3 232.11L513.8 232.89L514.3 232.07L514.8 233.01L515.3 232.45L515.8 233.95L516.3 234.25L516.8 232.85L517.3 235.21L517.8 234.46L518.3 233.93L518.8 233.28L519.3 235.04L519.8 235.21L520.3 234.75L520.8 234.27L521.3 236.03L521.8 235.47L522.3 233.31L522.8 238L523.3 233.01L523.8 237.33L524.3 236.72L524.8 237.62L525.3 234.57L525.8 237.77L526.3 237.48L526.8 237.4L527.3 237.46L527.8 238.96L528.3 238.35L528.8 239.21L529.3 239.86L529.8 239.08L530.3 239.08L530.8 238.99L531.3 238.65L531.8 240.61L532.3 238.67L532.8 241.38L533.3 240.53L533.8 236.65L533.8 274.78L533.3 276L532.8 267.62L532.3 268.84L531.8 275.94L531.3 277.68L530.8 267.77L530.3 266.14L529.8 268.66L529.3 262.48L528.8 269.1L528.3 274.48L527.8 276.26L527.3 266.23L526.8 265.73L526.3 268.96L525.8 266.14L525.3 265.46L524.8 262.54L524.3 263.65L523.8 281.76L523.3 281.53L522.8 265.74L522.3 265.96L521.8 264.91L521.3 264.5L520.8 276.07L520.3 279.11L519.8 261.72L519.3 260.7L518.8 271.41L518.3 273.55L517.8 260.34L517.3 259.22L516.8 256.42L516.3 262.45L515.8 263.06L515.3 262.54L514.8 262.13L514.3 262.51L513.8 256.96L513.3 262.84L512.8 257.64L512.3 265L511.8 266.15L511.3 258.69L510.8 261.49L510.3 261.02L509.8 258.31L509.3 258.4L508.8 263.25L508.3 257.94L507.8 258.26L507.3 253.8L506.8 265.57L506.3 267.39L505.8 260.11L505.3 259.22L504.8 257.38L504.3 257.91L503.8 255.72L503.3 255.24L502.8 255.12L502.3 258.16L501.8 254.12L501.3 256.66L500.8 259.34L500.3 261.54L499.8 262.99L499.3 267.09L498.8 270.01L498.3 257.13L497.8 257.33L497.3 254.34L496.8 253.39L496.3 249.87L495.8 255.6L495.3 248.4L494.8 251.71L494.3 253.77L493.8 250.71L493.3 252.03L492.8 255.04L492.3 247.4L491.8 250.87L491.3 251.48L490.8 250.45L490.3 251.14L489.8 251.69L489.3 248.28L488.8 250.19L488.3 249.76L487.8 250.93L487.3 245.89L486.8 256.57L486.3 253.13L485.8 257.32L485.3 258.92L484.8 266.82L484.3 266.65L483.8 266.48L483.3 247.7L482.8 249.55L482.3 248.79L481.8 250.45L481.3 249.31L480.8 251.34L480.3 250.8L479.8 246.61L479.3 252.7L478.8 253.71L478.3 248.5L477.8 258.87L477.3 261.56L476.8 247.02L476.3 241.81L475.8 250.22L475.3 249.48L474.8 244.81L474.3 246.38L473.8 245.47L473.3 245.23L472.8 245L472.3 242.05L471.8 244.97L471.3 252.72L470.8 254.48L470.3 246.37L469.8 245.93L469.3 245.26L468.8 242.82L468.3 249.29L467.8 241.72L467.3 243.73L466.8 246.16L466.3 242.06L465.8 242.62L465.3 239.49L464.8 241.47L464.3 245.83L463.8 242.62L463.3 240.39L462.8 244.16L462.3 243.16L461.8 239.36L461.3 236.68L460.8 242.46L460.3 240.57L459.8 236.94L459.3 242.83L458.8 240.26L458.3 243.24L457.8 243.88L457.3 237.44L456.8 236.6L456.3 241L455.8 242.81L455.3 236.79L454.8 236.99L454.3 238.13L453.8 239.22L453.3 238.1L452.8 236.06L452.3 237.49L451.8 236.12L451.3 235.49L450.8 238.45L450.3 237.61L449.8 236.72L449.3 236.99L448.8 244.74L448.3 246.58L447.8 236.54L447.3 234.38L446.8 234.82L446.3 238.33L445.8 236.88L445.3 233.52L444.8 236.16L444.3 232.13L443.8 233.48L443.3 234.7L442.8 231.56L442.3 233.07L441.8 230.77L441.3 232.86L440.8 237.64L440.3 231.27L439.8 232.49L439.3 233L438.8 235.29L438.3 230.35L437.8 232.7L437.3 238.96L436.8 237L436.3 233.21L435.8 236.84L435.3 228.22L434.8 233.14L434.3 232.95L433.8 232.47L433.3 237.91L432.8 239.29L432.3 232.26L431.8 232.09L431.3 229.36L430.8 226.75L430.3 231.12L429.8 234.1L429.3 227.17L428.8 228.49L428.3 229.24L427.8 228.74L427.3 226.55L426.8 234.81L426.3 228.92L425.8 227.69L425.3 228.96L424.8 229L424.3 222.84L423.8 230.67L423.3 225L422.8 224.46L422.3 230.19L421.8 226.13L421.3 223.1L420.8 223.13L420.3 227.87L419.8 225.48L419.3 233.84L418.8 235.63L418.3 223.39L417.8 225.01L417.3 226.77L416.8 227.32L416.3 225.89L415.8 225.64L415.3 224.74L414.8 225.17L414.3 223.45L413.8 224.47L413.3 228.08L412.8 228.64L412.3 223.68L411.8 228.11L411.3 227.56L410.8 224.63L410.3 226.21L409.8 228.74L409.3 226.68L408.8 227.44L408.3 225.91L407.8 226.76L407.3 230.86Z" fill="#000" stroke="#000" stroke-width="0.3" clip-path="url(#cpc2)"/>
<text transform="translate(41.4,9.7) scale(1.16,1)" text-anchor="end" fill="#262626" style="font-family:&quot;Liberation Sans&quot;, Arial, sans-serif;font-size:10.5px;"><tspan style="font-family:NanumGothic, sans-serif;letter-spacing:-0.53px;">1</tspan>0</text>
<text transform="translate(41.4,42.65) scale(1.16,1)" text-anchor="end" fill="#262626" style="font-family:&quot;Liberation Sans&quot;, Arial, sans-serif;font-size:10.5px;">8</text>
<text transform="translate(41.4,75.6) scale(1.16,1)" text-anchor="end" fill="#262626" style="font-family:&quot;Liberation Sans&quot;, Arial, sans-serif;font-size:10.5px;">6</text>
<text transform="translate(41.4,108.55) scale(1.16,1)" text-anchor="end" fill="#262626" style="font-family:&quot;Liberation Sans&quot;, Arial, sans-serif;font-size:10.5px;">4</text>
<text transform="translate(41.4,141.5) scale(1.16,1)" text-anchor="end" fill="#262626" style="font-family:&quot;Liberation Sans&quot;, Arial, sans-serif;font-size:10.5px;">2</text>
<text transform="translate(41.4,167.6) scale(1.16,1)" text-anchor="end" fill="#262626" style="font-family:&quot;Liberation Sans&quot;, Arial, sans-serif;font-size:10.5px;"><tspan style="font-family:NanumGothic, sans-serif;letter-spacing:-0.53px;">1</tspan>0</text>
<text transform="translate(41.4,200.5) scale(1.16,1)" text-anchor="end" fill="#262626" style="font-family:&quot;Liberation Sans&quot;, Arial, sans-serif;font-size:10.5px;">8</text>
<text transform="translate(41.4,233.4) scale(1.16,1)" text-anchor="end" fill="#262626" style="font-family:&quot;Liberation Sans&quot;, Arial, sans-serif;font-size:10.5px;">6</text>
<text transform="translate(41.4,266.3) scale(1.16,1)" text-anchor="end" fill="#262626" style="font-family:&quot;Liberation Sans&quot;, Arial, sans-serif;font-size:10.5px;">4</text>
<text transform="translate(41.4,299.2) scale(1.16,1)" text-anchor="end" fill="#262626" style="font-family:&quot;Liberation Sans&quot;, Arial, sans-serif;font-size:10.5px;">2</text>
<text transform="translate(221.7,9.7) scale(1.16,1)" text-anchor="end" fill="#262626" style="font-family:&quot;Liberation Sans&quot;, Arial, sans-serif;font-size:10.5px;"><tspan style="font-family:NanumGothic, sans-serif;letter-spacing:-0.53px;">1</tspan></text>
<text transform="translate(221.7,33.55) scale(1.16,1)" text-anchor="end" fill="#262626" style="font-family:&quot;Liberation Sans&quot;, Arial, sans-serif;font-size:10.5px;">0.8</text>
<text transform="translate(221.7,57.4) scale(1.16,1)" text-anchor="end" fill="#262626" style="font-family:&quot;Liberation Sans&quot;, Arial, sans-serif;font-size:10.5px;">0.6</text>
<text transform="translate(221.7,81.25) scale(1.16,1)" text-anchor="end" fill="#262626" style="font-family:&quot;Liberation Sans&quot;, Arial, sans-serif;font-size:10.5px;">0.4</text>
<text transform="translate(221.7,105.1) scale(1.16,1)" text-anchor="end" fill="#262626" style="font-family:&quot;Liberation Sans&quot;, Arial, sans-serif;font-size:10.5px;">0.2</text>
<text transform="translate(221.7,128.95) scale(1.16,1)" text-anchor="end" fill="#262626" style="font-family:&quot;Liberation Sans&quot;, Arial, sans-serif;font-size:10.5px;">0</text>
<text transform="translate(221.7,167.6) scale(1.16,1)" text-anchor="end" fill="#262626" style="font-family:&quot;Liberation Sans&quot;, Arial, sans-serif;font-size:10.5px;"><tspan style="font-family:NanumGothic, sans-serif;letter-spacing:-0.53px;">1</tspan></text>
<text transform="translate(221.7,190.76) scale(1.16,1)" text-anchor="end" fill="#262626" style="font-family:&quot;Liberation Sans&quot;, Arial, sans-serif;font-size:10.5px;">0.8</text>
<text transform="translate(221.7,213.92) scale(1.16,1)" text-anchor="end" fill="#262626" style="font-family:&quot;Liberation Sans&quot;, Arial, sans-serif;font-size:10.5px;">0.6</text>
<text transform="translate(221.7,237.08) scale(1.16,1)" text-anchor="end" fill="#262626" style="font-family:&quot;Liberation Sans&quot;, Arial, sans-serif;font-size:10.5px;">0.4</text>
<text transform="translate(221.7,260.24) scale(1.16,1)" text-anchor="end" fill="#262626" style="font-family:&quot;Liberation Sans&quot;, Arial, sans-serif;font-size:10.5px;">0.2</text>
<text transform="translate(221.7,283.4) scale(1.16,1)" text-anchor="end" fill="#262626" style="font-family:&quot;Liberation Sans&quot;, Arial, sans-serif;font-size:10.5px;">0</text>
<text transform="translate(405,32.6) scale(1.16,1)" text-anchor="end" fill="#262626" style="font-family:&quot;Liberation Sans&quot;, Arial, sans-serif;font-size:10.5px;">480</text>
<text transform="translate(405,64) scale(1.16,1)" text-anchor="end" fill="#262626" style="font-family:&quot;Liberation Sans&quot;, Arial, sans-serif;font-size:10.5px;">460</text>
<text transform="translate(405,95.4) scale(1.16,1)" text-anchor="end" fill="#262626" style="font-family:&quot;Liberation Sans&quot;, Arial, sans-serif;font-size:10.5px;">440</text>
<text transform="translate(405,126.8) scale(1.16,1)" text-anchor="end" fill="#262626" style="font-family:&quot;Liberation Sans&quot;, Arial, sans-serif;font-size:10.5px;">420</text>
<text transform="translate(405,193.9) scale(1.16,1)" text-anchor="end" fill="#262626" style="font-family:&quot;Liberation Sans&quot;, Arial, sans-serif;font-size:10.5px;">480</text>
<text transform="translate(405,229.6) scale(1.16,1)" text-anchor="end" fill="#262626" style="font-family:&quot;Liberation Sans&quot;, Arial, sans-serif;font-size:10.5px;">460</text>
<text transform="translate(405,265.3) scale(1.16,1)" text-anchor="end" fill="#262626" style="font-family:&quot;Liberation Sans&quot;, Arial, sans-serif;font-size:10.5px;">440</text>
<text transform="translate(46.4,152.3) scale(1.16,1)" text-anchor="middle" fill="#262626" style="font-family:&quot;Liberation Sans&quot;, Arial, sans-serif;font-size:10.5px;">57</text>
<text transform="translate(110.1,152.3) scale(1.16,1)" text-anchor="middle" fill="#262626" style="font-family:&quot;Liberation Sans&quot;, Arial, sans-serif;font-size:10.5px;">58</text>
<text transform="translate(173.8,152.3) scale(1.16,1)" text-anchor="middle" fill="#262626" style="font-family:&quot;Liberation Sans&quot;, Arial, sans-serif;font-size:10.5px;">59</text>
<text transform="translate(46.4,310) scale(1.16,1)" text-anchor="middle" fill="#262626" style="font-family:&quot;Liberation Sans&quot;, Arial, sans-serif;font-size:10.5px;">57</text>
<text transform="translate(110.1,310) scale(1.16,1)" text-anchor="middle" fill="#262626" style="font-family:&quot;Liberation Sans&quot;, Arial, sans-serif;font-size:10.5px;">58</text>
<text transform="translate(173.8,310) scale(1.16,1)" text-anchor="middle" fill="#262626" style="font-family:&quot;Liberation Sans&quot;, Arial, sans-serif;font-size:10.5px;">59</text>
<text transform="translate(226.7,152.3) scale(1.16,1)" text-anchor="middle" fill="#262626" style="font-family:&quot;Liberation Sans&quot;, Arial, sans-serif;font-size:10.5px;">0</text>
<text transform="translate(290.5,152.3) scale(1.16,1)" text-anchor="middle" fill="#262626" style="font-family:&quot;Liberation Sans&quot;, Arial, sans-serif;font-size:10.5px;">0.5</text>
<text transform="translate(354.3,152.3) scale(1.16,1)" text-anchor="middle" fill="#262626" style="font-family:&quot;Liberation Sans&quot;, Arial, sans-serif;font-size:10.5px;"><tspan style="font-family:NanumGothic, sans-serif;letter-spacing:-0.53px;">1</tspan></text>
<text transform="translate(226.7,310) scale(1.16,1)" text-anchor="middle" fill="#262626" style="font-family:&quot;Liberation Sans&quot;, Arial, sans-serif;font-size:10.5px;">0</text>
<text transform="translate(290.5,310) scale(1.16,1)" text-anchor="middle" fill="#262626" style="font-family:&quot;Liberation Sans&quot;, Arial, sans-serif;font-size:10.5px;">0.5</text>
<text transform="translate(354.3,310) scale(1.16,1)" text-anchor="middle" fill="#262626" style="font-family:&quot;Liberation Sans&quot;, Arial, sans-serif;font-size:10.5px;"><tspan style="font-family:NanumGothic, sans-serif;letter-spacing:-0.53px;">1</tspan></text>
<text transform="translate(410,152.3) scale(1.16,1)" text-anchor="middle" fill="#262626" style="font-family:&quot;Liberation Sans&quot;, Arial, sans-serif;font-size:10.5px;">0</text>
<text transform="translate(473.75,152.3) scale(1.16,1)" text-anchor="middle" fill="#262626" style="font-family:&quot;Liberation Sans&quot;, Arial, sans-serif;font-size:10.5px;">200</text>
<text transform="translate(537.5,152.3) scale(1.16,1)" text-anchor="middle" fill="#262626" style="font-family:&quot;Liberation Sans&quot;, Arial, sans-serif;font-size:10.5px;">400</text>
<text transform="translate(410,310) scale(1.16,1)" text-anchor="middle" fill="#262626" style="font-family:&quot;Liberation Sans&quot;, Arial, sans-serif;font-size:10.5px;">0</text>
<text transform="translate(473.75,310) scale(1.16,1)" text-anchor="middle" fill="#262626" style="font-family:&quot;Liberation Sans&quot;, Arial, sans-serif;font-size:10.5px;">200</text>
<text transform="translate(537.5,310) scale(1.16,1)" text-anchor="middle" fill="#262626" style="font-family:&quot;Liberation Sans&quot;, Arial, sans-serif;font-size:10.5px;">400</text>
<text transform="translate(46.4,17.1) scale(1.2,1)" text-anchor="start" fill="#000" style="font-family:&quot;Liberation Serif&quot;, &quot;Times New Roman&quot;, serif;font-size:12.5px;" letter-spacing="0.25">(a1)</text>
<text transform="translate(46.4,175) scale(1.2,1)" text-anchor="start" fill="#000" style="font-family:&quot;Liberation Serif&quot;, &quot;Times New Roman&quot;, serif;font-size:12.5px;" letter-spacing="0.25">(a2)</text>
<text transform="translate(226.7,17.1) scale(1.2,1)" text-anchor="start" fill="#000" style="font-family:&quot;Liberation Serif&quot;, &quot;Times New Roman&quot;, serif;font-size:12.5px;" letter-spacing="0.25">(b1)</text>
<text transform="translate(226.7,175) scale(1.2,1)" text-anchor="start" fill="#000" style="font-family:&quot;Liberation Serif&quot;, &quot;Times New Roman&quot;, serif;font-size:12.5px;" letter-spacing="0.25">(b2)</text>
<text transform="translate(410,17.2) scale(1.2,1)" text-anchor="start" fill="#000" style="font-family:&quot;Liberation Serif&quot;, &quot;Times New Roman&quot;, serif;font-size:12.5px;" letter-spacing="0.25">(c1)</text>
<text transform="translate(410,175) scale(1.2,1)" text-anchor="start" fill="#000" style="font-family:&quot;Liberation Serif&quot;, &quot;Times New Roman&quot;, serif;font-size:12.5px;" letter-spacing="0.25">(c2)</text>
<text transform="translate(444.8,37.8) scale(1.05,1)" text-anchor="start" fill="#ff0000" style="font-family:&quot;Liberation Serif&quot;, &quot;Times New Roman&quot;, serif;font-size:12px;" letter-spacing="0.4">BW1=50.9GHz</text>
<text transform="translate(441.4,199.5) scale(1.05,1)" text-anchor="start" fill="#ff0000" style="font-family:&quot;Liberation Serif&quot;, &quot;Times New Roman&quot;, serif;font-size:12px;" letter-spacing="0.4">BW2=49.4GHz</text>
<text transform="translate(105.5,324.9) scale(1.02,1)" text-anchor="middle" fill="#000" style="font-family:&quot;Liberation Serif&quot;, &quot;Times New Roman&quot;, serif;font-size:15.6px;">Time(ns)</text>
<text transform="translate(474.6,328.7) scale(1.04,1)" text-anchor="middle" fill="#000" style="font-family:&quot;Liberation Serif&quot;, &quot;Times New Roman&quot;, serif;font-size:15.6px;">Frequency(GHz)</text>
<text transform="translate(15.4,161.5) scale(1.28,1) rotate(-90)" text-anchor="middle" fill="#000" style="font-family:&quot;Liberation Serif&quot;, &quot;Times New Roman&quot;, serif;font-size:13.6px;">Photon density</text>
<text transform="translate(204.3,148.6) scale(1.3,1) rotate(-90)" text-anchor="middle" fill="#000" style="font-family:&quot;Liberation Serif&quot;, &quot;Times New Roman&quot;, serif;font-size:13.5px;">ACF</text>
<text transform="translate(380,148.5) scale(1.25,1) rotate(-90)" text-anchor="middle" fill="#000" style="font-family:&quot;Liberation Serif&quot;, &quot;Times New Roman&quot;, serif;font-size:13.5px;">Power(a.u.)</text>
<g transform="translate(270.6,328.9) scale(1.2,1)" fill="#000" style="font-family:&quot;Liberation Serif&quot;, &quot;Times New Roman&quot;, serif;font-size:13px"><text x="0" style="font-size:14px">&#916;</text><text x="7.9" style="font-style:italic">t</text><text x="13.3" y="1.2" style="font-size:16.5px">(</text><text x="19" style="font-style:italic">ns</text><text x="32.3" y="1.2" style="font-size:16.5px">)</text></g>
<rect x="250.7" y="59.7" width="97.6" height="46.3" rx="2.6" fill="#f8f8fb" stroke="none"/>
<path d="M250.7 103.8V62.3Q250.7 59.7 253.3 59.7H345.7Q348.3 59.7 348.3 62.3V103.4Q348.3 106 345.7 106H253.8" fill="none" stroke="#6f6f6f" stroke-width="1.1"/>
<ellipse cx="249.1" cy="107.4" rx="3.3" ry="2.6" fill="#111" stroke="#fffbe0" stroke-width="0.6"/>
<text transform="translate(264.6,80.9) scale(1.2,1)" text-anchor="start" fill="#4d4d4d" style="font-family:&quot;Liberation Sans&quot;, Arial, sans-serif;font-size:12px;">X</text>
<text transform="translate(264.6,98.6) scale(1.2,1)" text-anchor="start" fill="#4d4d4d" style="font-family:&quot;Liberation Sans&quot;, Arial, sans-serif;font-size:12px;">Y</text>
<text transform="translate(279.9,80.9) scale(1.255,1)" text-anchor="start" fill="#0589ee" style="font-family:&quot;Liberation Sans&quot;, Arial, sans-serif;font-size:11.5px;font-weight:bold;">0.20<tspan style="font-family:NanumGothic, sans-serif;letter-spacing:-0.58px;">1</tspan></text>
<text transform="translate(281.7,98.4) scale(1.255,1)" text-anchor="start" fill="#0589ee" style="font-family:&quot;Liberation Sans&quot;, Arial, sans-serif;font-size:11.5px;font-weight:bold;">0.<tspan style="font-family:NanumGothic, sans-serif;letter-spacing:-0.58px;">1</tspan>4<tspan style="font-family:NanumGothic, sans-serif;letter-spacing:-0.58px;">1</tspan>597</text>
</g>
</svg>
</body></html>
